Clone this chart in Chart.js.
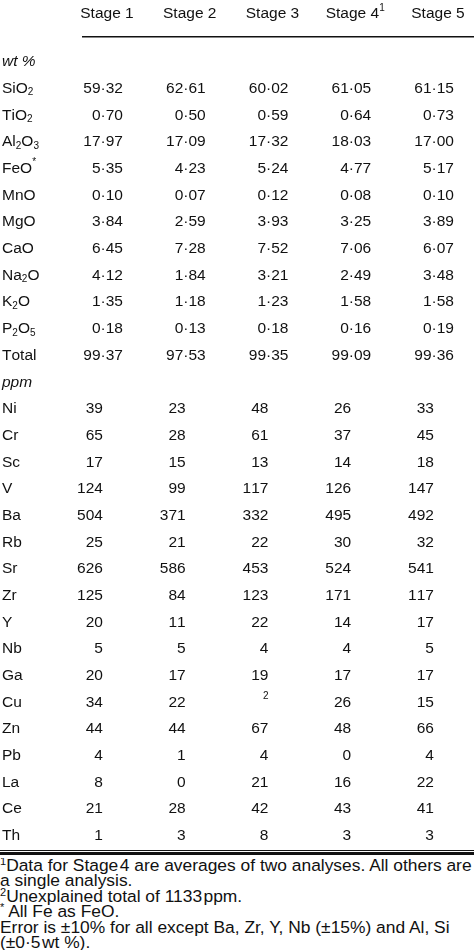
<!DOCTYPE html>
<html><head><meta charset="utf-8">
<script src="https://cdn.jsdelivr.net/npm/chart.js@4"></script>
<style>
body{margin:0;background:#fff;width:474px;font-family:"Liberation Sans",Arial,sans-serif}
#wrap{position:relative;width:474px;height:858px}
#notes{font-size:17.4px;line-height:15.4px;color:#111;padding:0;white-space:nowrap;overflow:hidden;width:474px}
sup{font-size:11px;vertical-align:6px;line-height:0}
</style></head><body>
<div id="wrap"><canvas id="myChart"></canvas></div>
<div id="notes"><sup>1</sup>Data for Stage&#8202;4 are averages of two analyses. All others are<br>a single analysis.<br><sup>2</sup>Unexplained total of 1133&#8202;ppm.<br><sup>*</sup> All Fe as FeO.<br>Error is ±10% for all except Ba, Zr, Y, Nb (±15%) and Al, Si<br>(±0·5&#8202;wt %).</div>
<script>
const stages = ['Stage 1', 'Stage 2', 'Stage 3', 'Stage 4^1', 'Stage 5'];
const oxides = ['SiO_2', 'TiO_2', 'Al_2O_3', 'FeO^*', 'MnO', 'MgO', 'CaO', 'Na_2O', 'K_2O', 'P_2O_5', 'Total'];
const traces = ['Ni', 'Cr', 'Sc', 'V', 'Ba', 'Rb', 'Sr', 'Zr', 'Y', 'Nb', 'Ga', 'Cu', 'Zn', 'Pb', 'La', 'Ce', 'Th'];

const oxStage1 = [59.32, 0.70, 17.97, 5.35, 0.10, 3.84, 6.45, 4.12, 1.35, 0.18, 99.37];
const oxStage2 = [62.61, 0.50, 17.09, 4.23, 0.07, 2.59, 7.28, 1.84, 1.18, 0.13, 97.53];
const oxStage3 = [60.02, 0.59, 17.32, 5.24, 0.12, 3.93, 7.52, 3.21, 1.23, 0.18, 99.35];
const oxStage4 = [61.05, 0.64, 18.03, 4.77, 0.08, 3.25, 7.06, 2.49, 1.58, 0.16, 99.09];
const oxStage5 = [61.15, 0.73, 17.00, 5.17, 0.10, 3.89, 6.07, 3.48, 1.58, 0.19, 99.36];

const trStage1 = [39, 65, 17, 124, 504, 25, 626, 125, 20, 5, 20, 34, 44, 4, 8, 21, 1];
const trStage2 = [23, 28, 15, 99, 371, 21, 586, 84, 11, 5, 17, 22, 44, 1, 0, 28, 3];
const trStage3 = [48, 61, 13, 117, 332, 22, 453, 123, 22, 4, 19, '^2', 67, 4, 21, 42, 8];
const trStage4 = [26, 37, 14, 126, 495, 30, 524, 171, 14, 4, 17, 26, 48, 0, 16, 43, 3];
const trStage5 = [33, 45, 18, 147, 492, 32, 541, 117, 17, 5, 17, 15, 66, 4, 22, 41, 3];

const oxCols = [oxStage1, oxStage2, oxStage3, oxStage4, oxStage5];
const trCols = [trStage1, trStage2, trStage3, trStage4, trStage5];

// row index: wt% = 0, oxides 1..11, ppm = 12, traces 13..29, header -1.8
function fmt(v) { return typeof v === 'number' ? v.toFixed(2).replace('.', '·') : v; }

const datasets = stages.map((s, c) => {
  const pts = [];
  oxCols[c].forEach((v, i) => pts.push({ x: c + 1, y: i + 1, t: fmt(v), dec: true }));
  trCols[c].forEach((v, i) => pts.push({ x: c + 1, y: i + 13, t: String(v), dec: false }));
  return { label: s, data: pts, pointRadius: 0, showLine: false };
});

const FONT = '15.5px "Liberation Sans", Arial, sans-serif';
const SMALL = '10px "Liberation Sans", Arial, sans-serif';

function rich(ctx, str, x, y, align) {
  const parts = [];
  let i = 0;
  while (i < str.length) {
    const ch = str[i];
    if ((ch === '_' || ch === '^') && i + 1 < str.length) { parts.push({ t: str[i + 1], m: ch }); i += 2; }
    else { parts.push({ t: ch, m: '' }); i++; }
  }
  let w = 0;
  parts.forEach(p => { ctx.font = p.m ? SMALL : FONT; p.w = ctx.measureText(p.t).width; w += p.w; });
  let cx = align === 'right' ? x - w : align === 'center' ? x - w / 2 : x;
  ctx.textAlign = 'left';
  parts.forEach(p => {
    ctx.font = p.m ? SMALL : FONT;
    ctx.fillText(p.t, cx, y + (p.m === '_' ? 4 : p.m === '^' ? -6 : 0));
    cx += p.w;
  });
}

const tablePlugin = {
  id: 'table',
  afterDatasetsDraw(chart) {
    const ctx = chart.ctx, ys = chart.scales.y, xs = chart.scales.x;
    ctx.save();
    ctx.fillStyle = '#111';
    ctx.textBaseline = 'middle';
    chart.data.datasets.forEach((ds, di) => {
      const meta = chart.getDatasetMeta(di);
      meta.data.forEach((el, i) => {
        const p = ds.data[i];
        rich(ctx, p.t, p.dec ? el.x : el.x - 20, el.y, 'right');
      });
      rich(ctx, ds.label, xs.getPixelForValue(di + 1) - 16, ys.getPixelForValue(-1.8), 'center');
    });
    ctx.font = 'italic ' + FONT;
    ctx.textAlign = 'left';
    ctx.fillText('wt %', 2, ys.getPixelForValue(0));
    ctx.fillText('ppm', 2, ys.getPixelForValue(12));
    oxides.forEach((o, i) => rich(ctx, o, 2, ys.getPixelForValue(i + 1), 'left'));
    traces.forEach((o, i) => rich(ctx, o, 2, ys.getPixelForValue(i + 13), 'left'));
    ctx.strokeStyle = '#111';
    ctx.lineWidth = 1.5;
    let y = ys.getPixelForValue(-0.95);
    ctx.beginPath(); ctx.moveTo(82, y); ctx.lineTo(474, y); ctx.stroke();
    y = ys.getPixelForValue(29.55);
    ctx.lineWidth = 1;
    ctx.beginPath(); ctx.moveTo(0, y); ctx.lineTo(474, y); ctx.stroke();
    ctx.lineWidth = 3;
    ctx.beginPath(); ctx.moveTo(0, y + 3); ctx.lineTo(474, y + 3); ctx.stroke();
    ctx.restore();
  }
};

new Chart(document.getElementById('myChart'), {
  type: 'scatter',
  data: { datasets: datasets },
  options: {
    responsive: true,
    maintainAspectRatio: false,
    animation: false,
    layout: { padding: 0 },
    plugins: { legend: { display: false }, tooltip: { enabled: false } },
    scales: {
      x: { type: 'linear', min: -0.486, max: 5.242, display: false },
      y: { type: 'linear', reverse: true, min: -2.323, max: 29.83, display: false }
    }
  },
  plugins: [tablePlugin]
});
</script>
</body></html>
